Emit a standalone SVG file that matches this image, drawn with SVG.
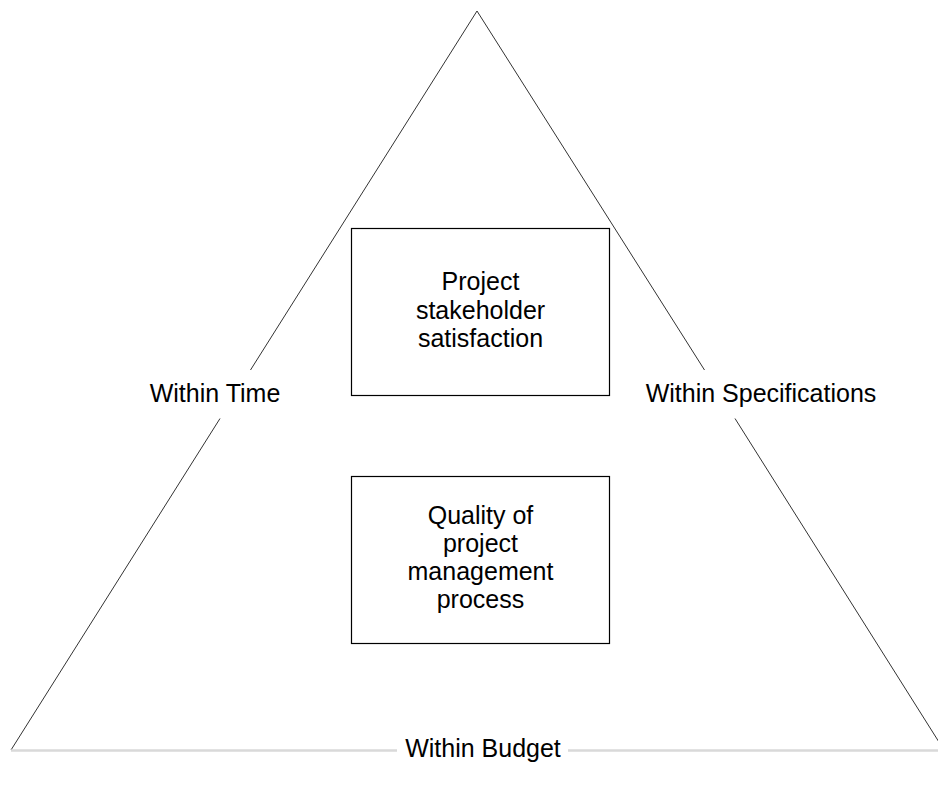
<svg xmlns="http://www.w3.org/2000/svg" width="938" height="786" viewBox="0 0 938 786">
<style>
.side{stroke:#333;stroke-width:1;fill:none}
.base{stroke:#d9d9d9;stroke-width:2.5;fill:none}
.box{fill:#fff;stroke:#000;stroke-width:1.2}
text{font-family:"Liberation Sans",Arial,sans-serif;font-size:25px;fill:#000;text-anchor:middle}
</style>
<rect width="938" height="786" fill="#fff"/>
<g id="connectors">
<line class="side" x1="477" y1="11" x2="250.5" y2="370"/>
<line class="side" x1="220" y1="418.5" x2="11" y2="750"/>
<line class="side" x1="477" y1="11" x2="704.5" y2="370"/>
<line class="side" x1="735" y1="418.5" x2="944" y2="750"/>
<line class="base" x1="11" y1="750.5" x2="397" y2="750.5"/>
<line class="base" x1="568" y1="750.5" x2="938" y2="750.5"/>
</g>
<g id="label-time"><text x="215" y="402">Within Time</text></g>
<g id="label-specs"><text x="761" y="402">Within Specifications</text></g>
<g id="label-budget"><text x="483" y="757">Within Budget</text></g>
<g id="node-satisfaction">
<rect class="box" x="351.5" y="228.5" width="258" height="167"/>
<text x="480.5" y="290">Project</text>
<text x="480.5" y="318.5">stakeholder</text>
<text x="480.5" y="347">satisfaction</text>
</g>
<g id="node-quality">
<rect class="box" x="351.5" y="476.5" width="258" height="167"/>
<text x="480.5" y="524">Quality of</text>
<text x="480.5" y="552">project</text>
<text x="480.5" y="580">management</text>
<text x="480.5" y="608">process</text>
</g>
</svg>
